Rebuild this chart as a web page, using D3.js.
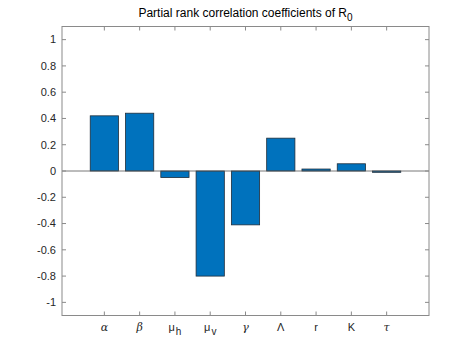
<!DOCTYPE html>
<html><head><meta charset="utf-8">
<script src="https://cdn.jsdelivr.net/npm/d3@7"></script>
<style>body{margin:0;background:#fff}svg{display:block}</style>
</head><body>
<script>
const categories = ["alpha","beta","mu_h","mu_v","gamma","Lambda","r","K","tau"];
const values = [0.42, 0.44, -0.05, -0.80, -0.41, 0.25, 0.015, 0.055, -0.01];
const yTicks = [-1,-0.8,-0.6,-0.4,-0.2,0,0.2,0.4,0.6,0.8,1];
const yTickLabels = ["-1","-0.8","-0.6","-0.4","-0.2","0","0.2","0.4","0.6","0.8","1"];
const labelMain = {alpha:"α",beta:"β",mu_h:"μ",mu_v:"μ",gamma:"γ",Lambda:"Λ",r:"r",K:"K",tau:"τ"};
const labelSub = {mu_h:"h",mu_v:"v"};
const italicLabels = ["alpha","beta","gamma","tau"];

const W=474,H=355;
const L=62,R=429,T=26.5,B=315.5;
const svg=d3.select("body").append("svg").attr("width",W).attr("height",H);
const font="Helvetica, 'Liberation Sans', Arial, sans-serif";
const axisColor="#8a8a8a", textColor="#262626";

const x=d3.scaleLinear().domain([-0.2,10.2]).range([L,R]);
const y=d3.scaleLinear().domain([-1.1,1.1]).range([B,T]);
const bw=(x(1)-x(0))*0.8;

// bars
svg.append("g").selectAll("rect").data(values).join("rect")
  .attr("x",(d,i)=>x(i+1)-bw/2)
  .attr("y",d=>y(Math.max(0,d)))
  .attr("width",bw)
  .attr("height",d=>Math.abs(y(d)-y(0)))
  .attr("fill","#0072BD").attr("stroke","#1f2d3a").attr("stroke-width",0.8);

// baseline
svg.append("line").attr("x1",L).attr("x2",R).attr("y1",y(0)).attr("y2",y(0))
  .attr("stroke","#555").attr("stroke-width",0.8);

// box
svg.append("rect").attr("x",L).attr("y",T).attr("width",R-L).attr("height",B-T)
  .attr("fill","none").attr("stroke",axisColor).attr("stroke-width",1);

const tl=4;
// y ticks
const yg=svg.append("g");
yTicks.forEach((t,i)=>{
  yg.append("line").attr("x1",L).attr("x2",L+tl).attr("y1",y(t)).attr("y2",y(t)).attr("stroke",axisColor);
  yg.append("line").attr("x1",R).attr("x2",R-tl).attr("y1",y(t)).attr("y2",y(t)).attr("stroke",axisColor);
  yg.append("text").attr("x",L-6).attr("y",y(t)).attr("dy","0.35em").attr("text-anchor","end")
    .attr("font-family",font).attr("font-size",11).attr("fill",textColor).text(yTickLabels[i]);
});
// x ticks
const xg=svg.append("g");
categories.forEach((c,i)=>{
  const xx=x(i+1);
  xg.append("line").attr("x1",xx).attr("x2",xx).attr("y1",B).attr("y2",B-tl).attr("stroke",axisColor);
  xg.append("line").attr("x1",xx).attr("x2",xx).attr("y1",T).attr("y2",T+tl).attr("stroke",axisColor);
  const t=xg.append("text").attr("x",xx).attr("y",B+15).attr("text-anchor","middle")
    .attr("font-family",italicLabels.includes(c)?"'DejaVu Serif', serif":font)
    .attr("font-style",italicLabels.includes(c)?"italic":"normal")
    .attr("font-size",11).attr("fill",textColor);
  t.append("tspan").text(labelMain[c]);
  if(labelSub[c]) t.append("tspan").attr("dy",4).attr("dx",1).attr("font-size",10).text(labelSub[c]);
});

// title
const tt=svg.append("text").attr("x",(L+R)/2).attr("y",17).attr("text-anchor","middle")
  .attr("font-family",font).attr("font-size",12).attr("fill","#000");
tt.append("tspan").text("Partial rank correlation coefficients of R");
tt.append("tspan").attr("dy",4).attr("font-size",10).text("0");
</script>
</body></html>
